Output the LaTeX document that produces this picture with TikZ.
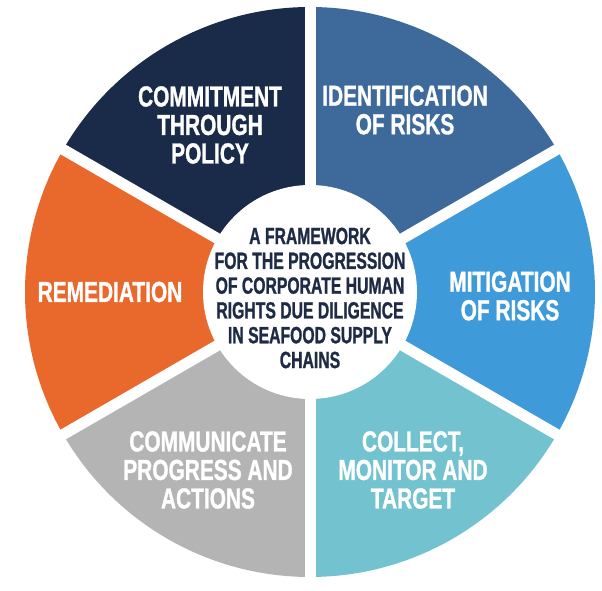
\documentclass[tikz,border=0pt]{standalone}
\usepackage{fontspec}
\setmainfont{Liberation Sans}
\newfontfamily\labfont{Liberation Sans}[FakeStretch=0.72,FakeBold=1]
\newfontfamily\hubfont{Liberation Sans}[FakeStretch=0.67,FakeBold=1]
\definecolor{cnavy}{HTML}{1A2B4A}
\definecolor{csteel}{HTML}{3D6A9A}
\definecolor{cbright}{HTML}{3E9AD8}
\definecolor{cteal}{HTML}{72C2CF}
\definecolor{cgrey}{HTML}{B4B4B4}
\definecolor{corange}{HTML}{E9692C}
\definecolor{ctext}{HTML}{1E2B45}
\tikzset{
  lab/.style={text=white, font=\labfont\bfseries\fontsize{29}{28.5}\selectfont, align=center, inner sep=0pt},
  hubtext/.style={text=ctext, font=\hubfont\bfseries\fontsize{23.5}{24.8}\selectfont, align=center, inner sep=0pt},
  gap/.style={white, line width=11pt},
  hub/.style={circle, fill=white, minimum size=214pt, inner sep=0pt}
}
\begin{document}
\begin{tikzpicture}[x=1pt,y=1pt]
\useasboundingbox (0,0) rectangle (602,591);
\fill[white] (0,0) rectangle (602,591);
\coordinate (c) at (310,299);
\def\R{285}
\fill[csteel]  (c) -- ++(30:\R)  arc[start angle=30,  end angle=90,  radius=\R] -- cycle;
\fill[cnavy]   (c) -- ++(90:\R)  arc[start angle=90,  end angle=150, radius=\R] -- cycle;
\fill[corange] (c) -- ++(150:\R) arc[start angle=150, end angle=210, radius=\R] -- cycle;
\fill[cgrey]   (c) -- ++(210:\R) arc[start angle=210, end angle=270, radius=\R] -- cycle;
\fill[cteal]   (c) -- ++(270:\R) arc[start angle=270, end angle=330, radius=\R] -- cycle;
\fill[cbright] (c) -- ++(330:\R) arc[start angle=330, end angle=390, radius=\R] -- cycle;
\foreach \a in {30,90,150,210,270,330} \draw[gap] (c) -- ++(\a:300);
\node[hub] (hub) at (c) {};
\node[hubtext] (hubt) at (310,293) {A FRAMEWORK\\FOR THE PROGRESSION\\OF CORPORATE HUMAN\\RIGHTS DUE DILIGENCE\\IN SEAFOOD SUPPLY\\CHAINS};
\node[lab] (commit) at (210,466) {COMMITMENT\\THROUGH\\POLICY};
\node[lab] (ident) at (405,481) {IDENTIFICATION\\OF RISKS};
\node[lab] (mitig) at (510,295) {MITIGATION\\OF RISKS};
\node[lab] (remed) at (110,299) {REMEDIATION};
\node[lab] (commun) at (208,121) {COMMUNICATE\\PROGRESS AND\\ACTIONS};
\node[lab] (collect) at (413,121) {COLLECT,\\MONITOR AND\\TARGET};
\end{tikzpicture}
\end{document}
